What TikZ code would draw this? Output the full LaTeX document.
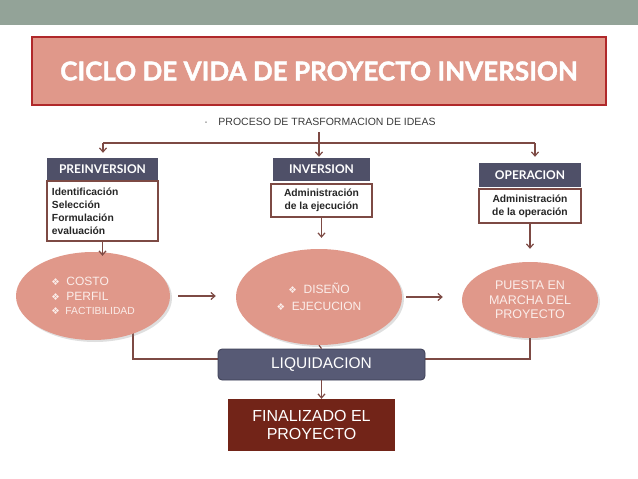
\documentclass[tikz,border=0pt]{standalone}
\usepackage{fontspec}
\setmainfont{Liberation Sans}
\newfontfamily\gillfont{Lato}
\newfontfamily\gillheavy[BoldFeatures={FakeBold=1.6}]{Lato}
\newfontfamily\symfont{DejaVu Sans}
\usetikzlibrary{arrows.meta,shapes.geometric,shadows,backgrounds}
\definecolor{band}{HTML}{93A398}
\definecolor{titlefill}{HTML}{E0988A}
\definecolor{titleedge}{HTML}{B0282A}
\definecolor{hdr}{HTML}{4F5068}
\definecolor{brownline}{HTML}{7D4A44}
\definecolor{ellfill}{HTML}{E0988A}
\definecolor{liqfill}{HTML}{575A75}
\definecolor{liqedge}{HTML}{3C3E55}
\definecolor{finfill}{HTML}{722418}
\definecolor{graytext}{HTML}{3A3A3A}
\definecolor{elltext}{HTML}{FBEDEA}
\newcommand{\bul}{{\symfont\fontsize{9.5}{9.5}\selectfont\char"2756}}
\begin{document}
\begin{tikzpicture}[x=1pt,y=-1pt,
  conn/.style={draw=brownline, line width=1.2pt},
  arr/.style={conn, -{Straight Barb[length=4pt,width=7pt]}},
  hdrbox/.style={fill=hdr, draw=none, text=white, font=\gillfont\bfseries\fontsize{12}{14}\selectfont, inner sep=0pt},
  infobox/.style={fill=white, draw=brownline, line width=1.1pt, inner sep=0pt, font=\bfseries\fontsize{10.3}{13}\selectfont, text=black!85},
  ell/.style={ellipse, fill=ellfill, draw=none, inner sep=0pt, text=elltext,
    drop shadow={opacity=0.25, shadow xshift=2pt, shadow yshift=-2pt}},
]
\useasboundingbox (0,0) rectangle (638,479);
\fill[band] (0,0) rectangle (638,25);
% title
\node[fill=titlefill, draw=titleedge, line width=1.2pt, minimum width=574pt, minimum height=68pt, inner sep=0pt,
  text=white, font=\gillheavy\bfseries\fontsize{26}{30}\selectfont] (title) at (319,71) {CICLO DE VIDA DE PROYECTO INVERSION};
\node[text=graytext, font=\fontsize{10.5}{12}\selectfont, inner sep=0pt] (proc) at (320,122) {\textperiodcentered\quad PROCESO DE TRASFORMACION DE IDEAS};
% headers and boxes
\node[hdrbox, minimum width=111pt, minimum height=23pt] (hpre) at (102.5,169.5) {PREINVERSION};
\node[infobox, minimum width=111pt, minimum height=60pt, align=left, text width=101pt] (bpre) at (102.5,211) {Identificación\\Selección\\Formulación\\evaluación};
\node[hdrbox, minimum width=97pt, minimum height=23pt] (hinv) at (321.5,169.5) {INVERSION};
\node[infobox, minimum width=101pt, minimum height=33pt, align=center] (binv) at (321.5,200.5) {Administración\\de la ejecución};
\node[hdrbox, minimum width=102pt, minimum height=24pt] (hop) at (530,175) {OPERACION};
\node[infobox, minimum width=102pt, minimum height=34pt, align=center] (bop) at (530,206) {Administración\\de la operación};
% ellipses
\node[ell, minimum width=154pt, minimum height=88pt, align=left, font=\fontsize{12}{14.5}\selectfont] (e1) at (93,296)
  {\bul\ \ COSTO\\\bul\ \ PERFIL\\{\fontsize{10.3}{12}\selectfont\bul\ \ FACTIBILIDAD}};
\node[ell, minimum width=166pt, minimum height=96pt, align=center, font=\fontsize{12}{17}\selectfont] (e2) at (319,297)
  {\bul\ \ DISEÑO\\\bul\ \ EJECUCION};
\node[ell, minimum width=136pt, minimum height=76pt, align=center, font=\fontsize{12.5}{14.5}\selectfont] (e3) at (530,300)
  {PUESTA EN\\MARCHA DEL\\PROYECTO};
% bottom
\node[fill=liqfill, draw=liqedge, line width=0.8pt, rounded corners=4pt, minimum width=207pt, minimum height=31pt, inner sep=0pt,
  text=white, font=\fontsize{15.5}{17}\selectfont] (liq) at (321.5,364.5) {LIQUIDACION};
\node[fill=finfill, draw=none, minimum width=167pt, minimum height=52pt, inner sep=0pt, align=center,
  text=white, font=\fontsize{16}{18}\selectfont] (fin) at (311.5,425) {FINALIZADO EL\\PROYECTO};
% connectors
\coordinate (tc0) at (319,132);
\coordinate (tc) at (319,143);
\coordinate (tl) at (103,143);
\coordinate (tr) at (535,143);
\draw[conn] (tl) -- (tr);
\draw[conn] (tc0) -- (tc);
\draw[arr, shorten >=5pt] (tl) -- (tl |- hpre.north);
\draw[arr, shorten >=1pt] (tc) -- (tc |- hinv.north);
\draw[arr, shorten >=6pt] (tr) -- (tr |- hop.north);
\draw[arr, shorten >=-4pt] (bpre.south) -- (bpre.south |- e1.north);
\draw[arr, shorten >=11pt] (binv.south) -- (binv.south |- e2.north);
\draw[arr, shorten >=13pt] (bop.south) -- (bop.south |- e3.north);
\draw[arr, shorten <=8pt, shorten >=20pt] (e1.east) -- (e1.east -| e2.west);
\draw[arr, shorten <=4pt, shorten >=19pt] (e2.east) -- (e2.east -| e3.west);
\begin{scope}[on background layer]
\draw[conn] (liq.west |- 0,359) -| ([xshift=40pt]e1.center);
\draw[conn] (liq.east |- 0,359) -| (e3.center);
\end{scope}
\draw[conn] (e2.south) -- (liq.north);
\draw[arr] (liq.south) -- (liq.south |- fin.north);
\end{tikzpicture}
\end{document}
